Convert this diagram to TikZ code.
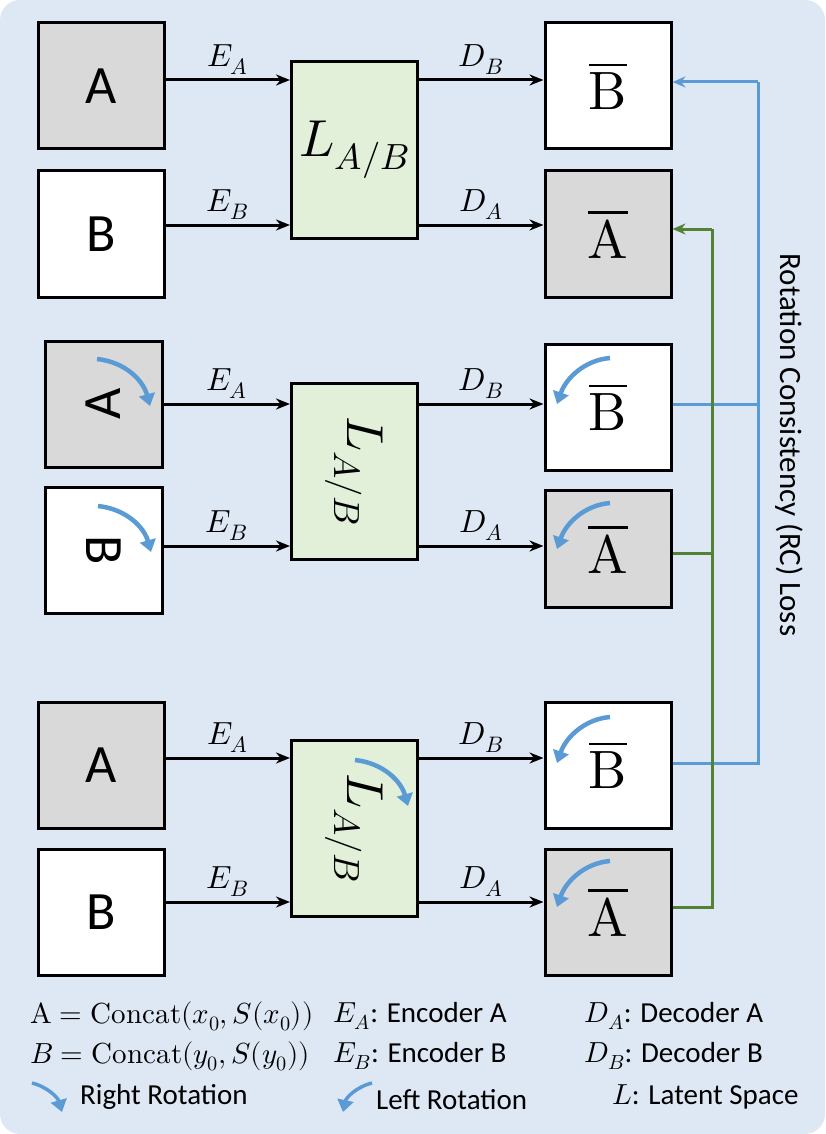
\documentclass[tikz,border=0pt]{standalone}
\usepackage{fontspec}
\usepackage{unicode-math}
\setmainfont{Carlito}
\setmathfont{Latin Modern Math}
\usetikzlibrary{arrows.meta}
\definecolor{bg}{HTML}{DEE8F5}
\definecolor{gbox}{HTML}{D9D9D9}
\definecolor{lbox}{HTML}{E2EFD9}
\definecolor{rb}{HTML}{5B9BD5}
\definecolor{gr}{HTML}{548235}
\begin{document}
\begin{tikzpicture}[x=1pt,y=-1pt,
 box/.style={draw=black,line width=3pt,minimum width=126pt,minimum height=126pt,inner sep=0pt,font=\fontsize{54}{58}\selectfont},
 lat/.style={draw=black,line width=3pt,fill=lbox,minimum width=126pt,minimum height=176pt,inner sep=0pt,font=\fontsize{52}{56}\selectfont},
 ar/.style={-{Stealth[length=14pt,width=11pt]},line width=3pt},
 lab/.style={above,font=\fontsize{32}{34}\selectfont,inner sep=4pt},
 rot/.style={line width=4.5pt,rb,-{Triangle[length=12pt,width=16pt]}},
 bl/.style={rb,line width=3pt},
 gl/.style={gr,line width=3pt},
 leg/.style={anchor=west,font=\fontsize{29}{32}\selectfont,inner sep=0pt}]
\useasboundingbox (0,0) rectangle (825,1134);
\fill[bg,rounded corners=20pt] (0,0) rectangle (825,1134);
% row1
\node[box,fill=gbox] (a1) at (101,86) {A};
\node[box,fill=white] (b1) at (101,234) {B};
\node[lat] (l1) at (354.5,150) {$L_{A/B}$};
\node[box,fill=white] (ob1) at (608,86) {$\overline{\symup{B}}$};
\node[box,fill=gbox] (oa1) at (608,234) {$\overline{\symup{A}}$};
\draw[ar] (a1.east|-0,80) -- node[lab]{$E_A$} (l1.west|-0,80);
\draw[ar] (b1.east|-0,225) -- node[lab]{$E_B$} (l1.west|-0,225);
\draw[ar] (l1.east|-0,80) -- node[lab]{$D_B$} (ob1.west|-0,80);
\draw[ar] (l1.east|-0,225) -- node[lab]{$D_A$} (oa1.west|-0,225);
% row2
\node[box,fill=gbox,minimum width=117pt] (a2) at (103.5,404) {\rotatebox{90}{A}};
\node[box,fill=white,minimum width=117pt] (b2) at (103.5,550) {\rotatebox{-90}{B}};
\node[lat] (l2) at (354.5,471) {\rotatebox{-90}{$L_{A/B}$}};
\node[box,fill=white] (ob2) at (608,407) {$\overline{\symup{B}}$};
\node[box,fill=gbox,minimum height=117pt] (oa2) at (608,549) {$\overline{\symup{A}}$};
\draw[ar] (a2.east|-0,404) -- node[lab]{$E_A$} (l2.west|-0,404);
\draw[ar] (b2.east|-0,546) -- node[lab]{$E_B$} (l2.west|-0,546);
\draw[ar] (l2.east|-0,404) -- node[lab]{$D_B$} (ob2.west|-0,404);
\draw[ar] (l2.east|-0,546) -- node[lab]{$D_A$} (oa2.west|-0,546);
% row3
\node[box,fill=gbox] (a3) at (101,765) {A};
\node[box,fill=white] (b3) at (101,912) {B};
\node[lat] (l3) at (354.5,828) {\rotatebox{-90}{$L_{A/B}$}};
\node[box,fill=white] (ob3) at (608,765) {$\overline{\symup{B}}$};
\node[box,fill=gbox] (oa3) at (608,912) {$\overline{\symup{A}}$};
\draw[ar] (a3.east|-0,758) -- node[lab]{$E_A$} (l3.west|-0,758);
\draw[ar] (b3.east|-0,902) -- node[lab]{$E_B$} (l3.west|-0,902);
\draw[ar] (l3.east|-0,758) -- node[lab]{$D_B$} (ob3.west|-0,758);
\draw[ar] (l3.east|-0,902) -- node[lab]{$D_A$} (oa3.west|-0,902);
% rotation arrows
\draw[rot] (97,359) .. controls (125,362) and (143,380) .. (150,406);
\draw[rot] (98,506) .. controls (126,509) and (144,527) .. (151,552);
\draw[rot] (355,760) .. controls (383,763) and (401,781) .. (408,806);
\foreach \y in {358,503,717,861}
  \draw[rot] (610,\y) .. controls (585,\y+2) and (566,\y+20) .. (557,\y+46);
% loss lines
\coordinate (bt) at (758,82);
\coordinate (gt) at (712,229);
\draw[bl] (ob2.east|-0,404) -- (758,404);
\draw[bl] (ob3.east|-0,763) -- (758,763) -- (bt);
\draw[bl,-{Stealth[length=13pt,width=11pt]}] (bt) -- (ob1.east|-bt);
\draw[gl] (oa2.east|-0,553) -- (712,553);
\draw[gl] (oa3.east|-0,907) -- (712,907) -- (gt);
\draw[gl,-{Stealth[length=13pt,width=11pt]}] (gt) -- (oa1.east|-gt);
\node[rotate=-90,font=\fontsize{31}{33}\selectfont] (loss) at (789,445) {Rotation Consistency (RC) Loss};
% legend
\node[leg] (l1t) at (30,1016) {$\symup{A}=\symup{Concat}(x_0,S(x_0))$};
\node[leg] (l2t) at (30,1056) {$B=\symup{Concat}(y_0,S(y_0))$};
\draw[rot,line width=3.5pt] (32,1083) .. controls (48,1087) and (58,1098) .. (62,1112);
\node[leg] (l3t) at (80,1097) {Right Rotation};
\node[leg] (e1) at (333,1016) {$E_A$: Encoder A};
\node[leg] (e2) at (333,1056) {$E_B$: Encoder B};
\draw[rot,line width=3.5pt] (372,1083) .. controls (356,1087) and (346,1098) .. (343,1112);
\node[leg] (e3) at (376,1100) {Left Rotation};
\node[leg] (d1) at (584,1016) {$D_A$: Decoder A};
\node[leg] (d2) at (584,1056) {$D_B$: Decoder B};
\node[leg] (d3) at (612,1097) {$L$: Latent Space};
\end{tikzpicture}
\end{document}
